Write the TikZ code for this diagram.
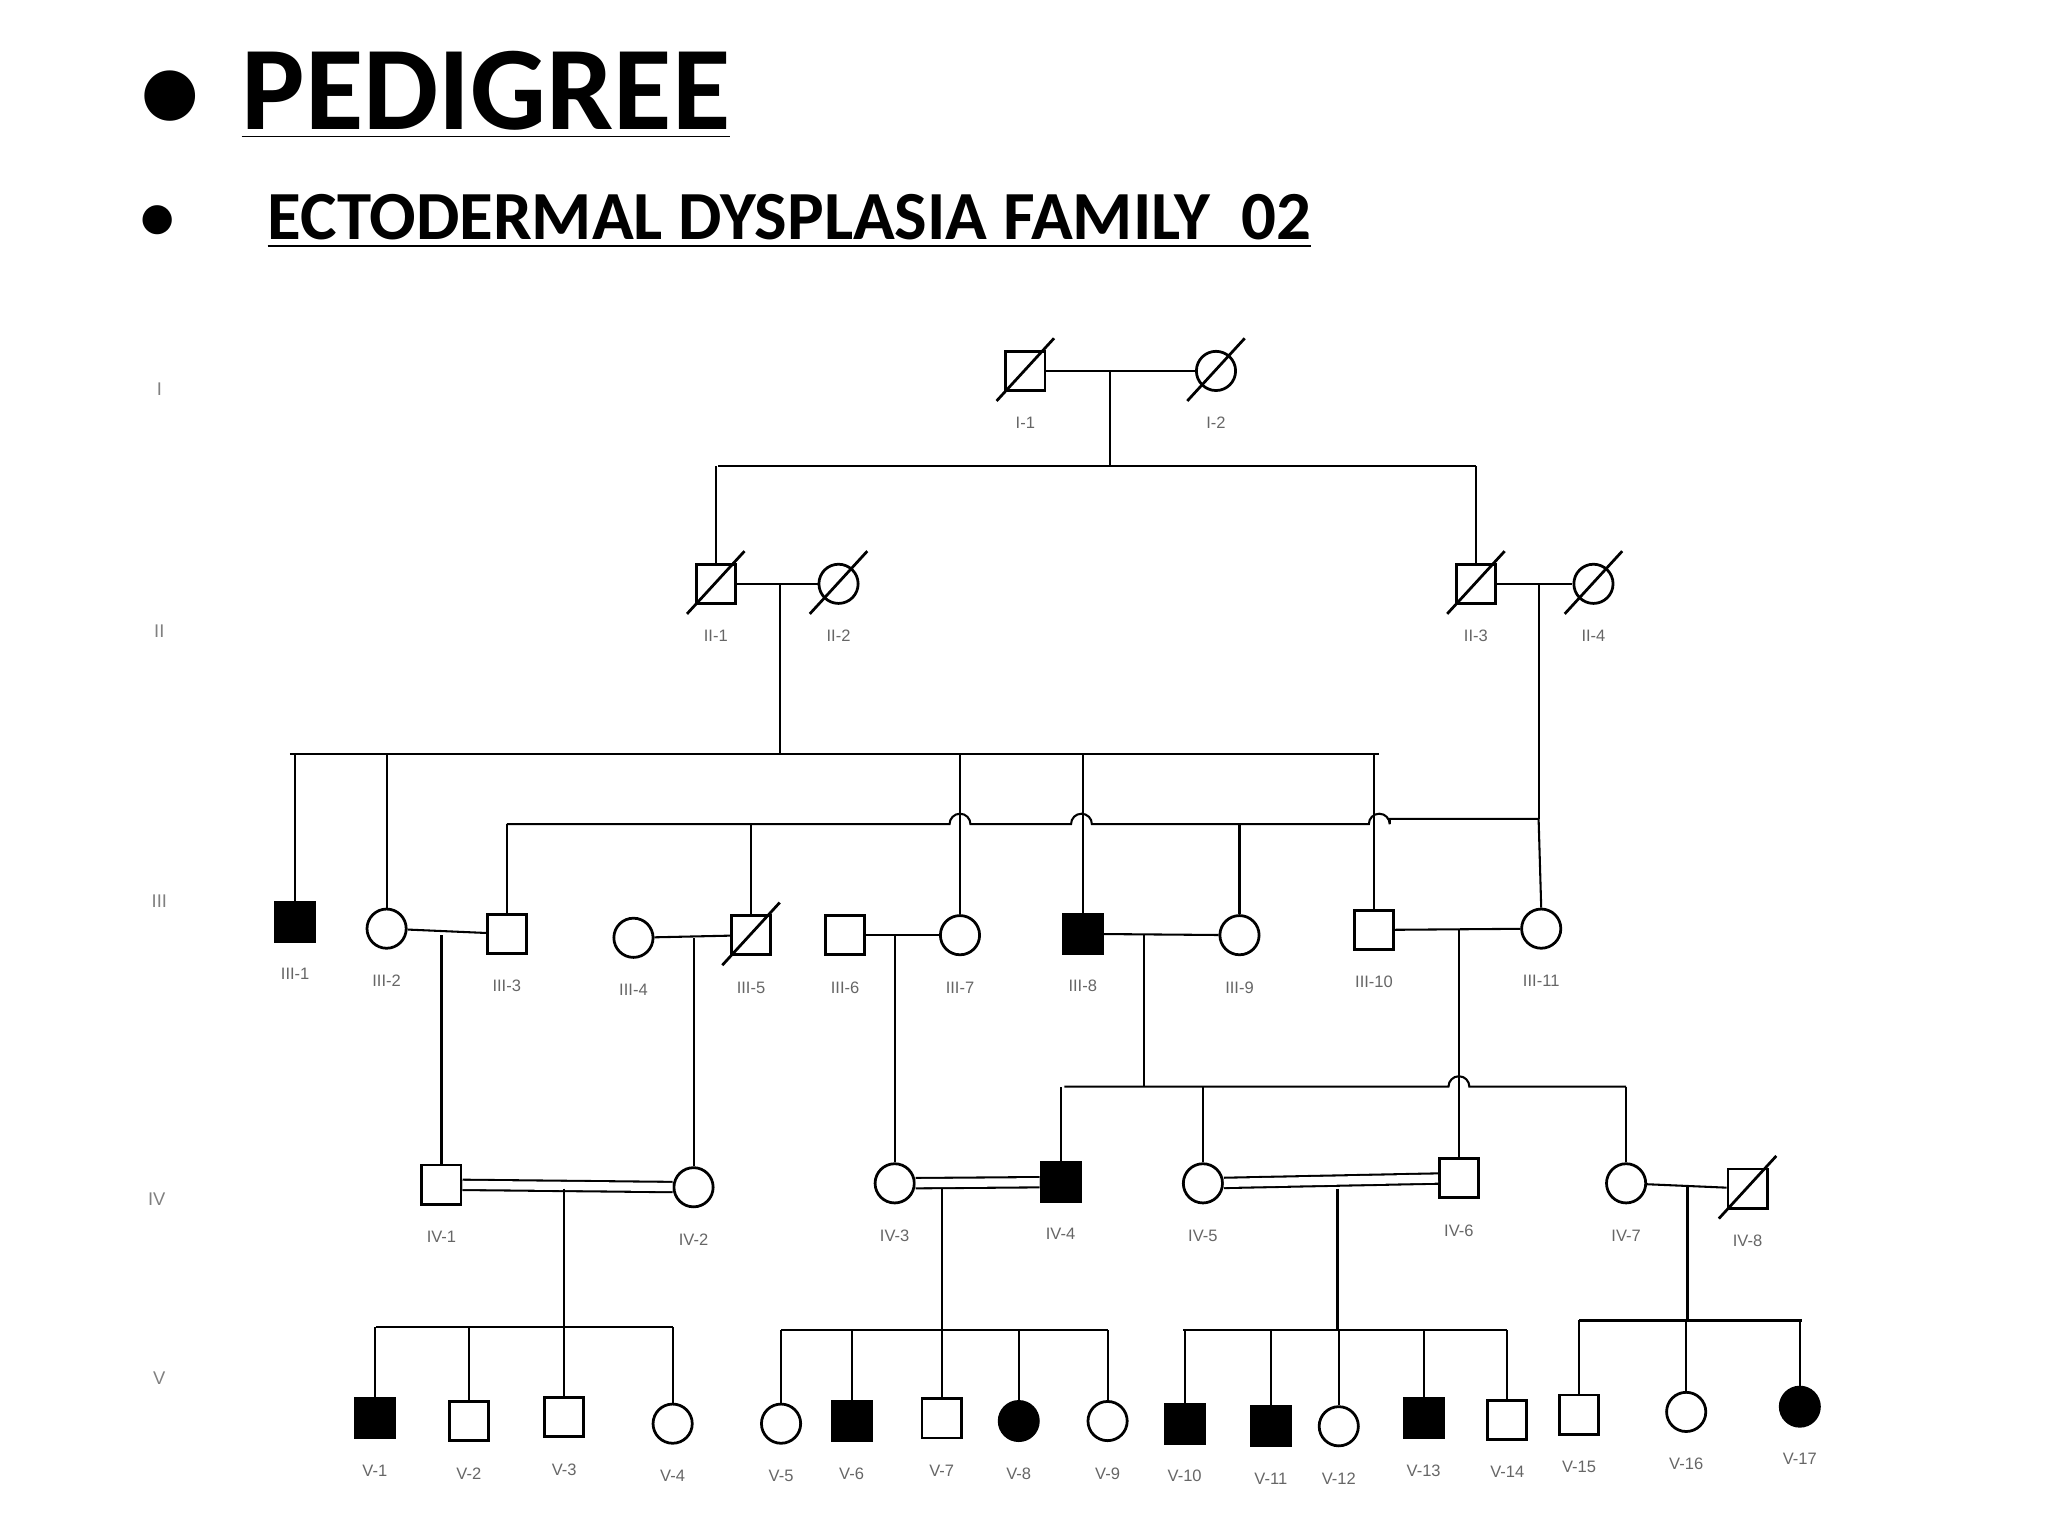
\documentclass[tikz,border=0pt]{standalone}
\usepackage{fontspec}
\setmainfont{Carlito}
\newfontfamily\labfont{Liberation Sans}
\begin{document}
\begin{tikzpicture}[x=0.01cm,y=-0.01cm,line width=0.45pt,
  ind/.style={draw,minimum size=0.3cm,inner sep=0pt,line width=0.6pt},
  ma/.style={ind,rectangle},
  fe/.style={ind,circle},
  aff/.style={fill=black},
  lab/.style={font=\labfont\fontsize{3.6}{4}\selectfont,text=black!60},
  gen/.style={font=\labfont\fontsize{4}{5}\selectfont,text=black!50},
  every label/.style={lab},
  label distance=0.07cm]
\useasboundingbox (0,0) rectangle (1568,1176);
\newcommand{\dead}[1]{\draw[line width=0.6pt] ([shift={(-22,23)}]#1.center) -- ([shift={(22,-25)}]#1.center);}
\newcommand{\hp}{arc[start angle=180,end angle=360,radius=8]}
% titles
\node[anchor=base west,font=\fontsize{26}{30}\selectfont\bfseries] (t1) at (95,99) {•\hspace{0.35em}\underline{PEDIGREE}};
\node[anchor=base west,font=\fontsize{15}{18}\selectfont\bfseries] (t2) at (95,183) {•\hspace{1.35em}\underline{ECTODERMAL DYSPLASIA FAMILY\ \ 02}};
% generation labels
\node[gen] (gI) at (122,298) {I};
\node[gen] (gII) at (122,483) {II};
\node[gen] (gIII) at (122,690) {III};
\node[gen] (gIV) at (120,918) {IV};
\node[gen] (gV) at (122,1055) {V};
% gen I
\node[ma,label=below:I-1] (I1) at (785,284) {};
\node[fe,label=below:I-2] (I2) at (931,284) {};
\dead{I1}\dead{I2}
\draw (I1) -- (I2);
\draw (850,284) -- (850,357);
\draw (550,357) -- (1130,357);
% gen II
\node[ma,label=below:II-1] (II1) at (548,447) {};
\node[fe,label=below:II-2] (II2) at (642,447) {};
\node[ma,label=below:II-3] (II3) at (1130,447) {};
\node[fe,label=below:II-4] (II4) at (1220,447) {};
\dead{II1}\dead{II2}\dead{II3}\dead{II4}
\draw (II1.north) -- (II1.north |- 0,357);
\draw (II3.north) -- (II3.north |- 0,357);
\draw (II1) -- (II2);
\draw (II3) -- (II4);
\draw (597,447) -- (597,577);
\draw (1178,447) -- (1178,627);
% gen III
\node[ma,aff,label=below:III-1] (III1) at (226,706) {};
\node[fe,label=below:III-2] (III2) at (296,711) {};
\node[ma,label=below:III-3] (III3) at (388,715) {};
\node[fe,label=below:III-4] (III4) at (485,718) {};
\node[ma,label=below:III-5] (III5) at (575,716) {};
\node[ma,label=below:III-6] (III6) at (647,716) {};
\node[fe,label=below:III-7] (III7) at (735,716) {};
\node[ma,aff,label=below:III-8] (III8) at (829,715) {};
\node[fe,label=below:III-9] (III9) at (949,716) {};
\node[ma,label=below:III-10] (III10) at (1052,712) {};
\node[fe,label=below:III-11] (III11) at (1180,711) {};
\dead{III5}
\draw (222,577) -- (1056,577);
\draw (III1.north) -- (III1.north |- 0,577);
\draw (III2.north) -- (III2.north |- 0,577);
\draw (III7.north) -- (III7.north |- 0,577);
\draw (III8.north) -- (III8.north |- 0,577);
\draw (III10.north) -- (III10.north |- 0,577);
\draw (388,631) -- (727,631) \hp -- (820,631) \hp -- (1048,631) \hp -- (1064,627) -- (1178,627);
\draw (III3.north) -- (III3.north |- 0,631);
\draw (III5.north) -- (III5.north |- 0,631);
\draw (III9.north) -- (III9.north |- 0,631);
\draw (III11.north) -- (1178,627);
\draw (III2) -- (III3);
\draw (III4) -- (III5);
\draw (III6) -- (III7);
\draw (III8) -- (III9);
\draw (III10) -- (III11);
% gen IV
\node[ma,label=below:IV-1] (IV1) at (338,907) {};
\node[fe,label=below:IV-2] (IV2) at (531,909) {};
\node[fe,label=below:IV-3] (IV3) at (685,906) {};
\node[ma,aff,label=below:IV-4] (IV4) at (812,905) {};
\node[fe,label=below:IV-5] (IV5) at (921,906) {};
\node[ma,label=below:IV-6] (IV6) at (1117,902) {};
\node[fe,label=below:IV-7] (IV7) at (1245,906) {};
\node[ma,label=below:IV-8] (IV8) at (1338,910) {};
\dead{IV8}
\draw (IV1.north) -- (338,716);
\draw (IV2.north) -- (531,718);
\draw (IV3.north) -- (685,716);
\draw (876,716) -- (876,832);
\draw (815,832) -- (1109,832) \hp -- (1245,832);
\draw (IV6.north) -- (1117,711);
\draw (IV4.north) -- (IV4.north |- 0,832);
\draw (IV5.north) -- (IV5.north |- 0,832);
\draw (IV7.north) -- (IV7.north |- 0,832);
\draw[double,double distance=1.8pt] (IV1) -- (IV2);
\draw[double,double distance=1.8pt] (IV3) -- (IV4);
\draw[double,double distance=1.8pt] (IV5) -- (IV6);
\draw (IV7) -- (IV8);
\draw (432,910) -- (432,1016);
\draw (721,910) -- (721,1018);
\draw (1024,910) -- (1024,1018);
\draw (1292,908) -- (1292,1011);
% gen V
\node[ma,aff,label=below:V-1] (V1) at (287,1086) {};
\node[ma,label=below:V-2] (V2) at (359,1088) {};
\node[ma,label=below:V-3] (V3) at (432,1085) {};
\node[fe,label=below:V-4] (V4) at (515,1090) {};
\node[fe,label=below:V-5] (V5) at (598,1090) {};
\node[ma,aff,label=below:V-6] (V6) at (652,1088) {};
\node[ma,label=below:V-7] (V7) at (721,1086) {};
\node[fe,aff,label=below:V-8] (V8) at (780,1088) {};
\node[fe,label=below:V-9] (V9) at (848,1088) {};
\node[ma,aff,label=below:V-10] (V10) at (907,1090) {};
\node[ma,aff,label=below:V-11] (V11) at (973,1092) {};
\node[fe,label=below:V-12] (V12) at (1025,1092) {};
\node[ma,aff,label=below:V-13] (V13) at (1090,1086) {};
\node[ma,label=below:V-14] (V14) at (1154,1087) {};
\node[ma,label=below:V-15] (V15) at (1209,1083) {};
\node[fe,label=below:V-16] (V16) at (1291,1081) {};
\node[fe,aff,label=below:V-17] (V17) at (1378,1077) {};
\draw (288,1016) -- (515,1016);
\draw (598,1018) -- (848,1018);
\draw (906,1018) -- (1154,1018);
\draw (1209,1011) -- (1380,1011);
\foreach \n/\y in {V1/1016,V2/1016,V3/1016,V4/1016,V5/1018,V6/1018,V7/1018,V8/1018,V9/1018,V10/1018,V11/1018,V12/1018,V13/1018,V14/1018,V15/1011,V16/1011,V17/1011}
  \draw (\n.north) -- (\n.north |- 0,\y);
\end{tikzpicture}
\end{document}
